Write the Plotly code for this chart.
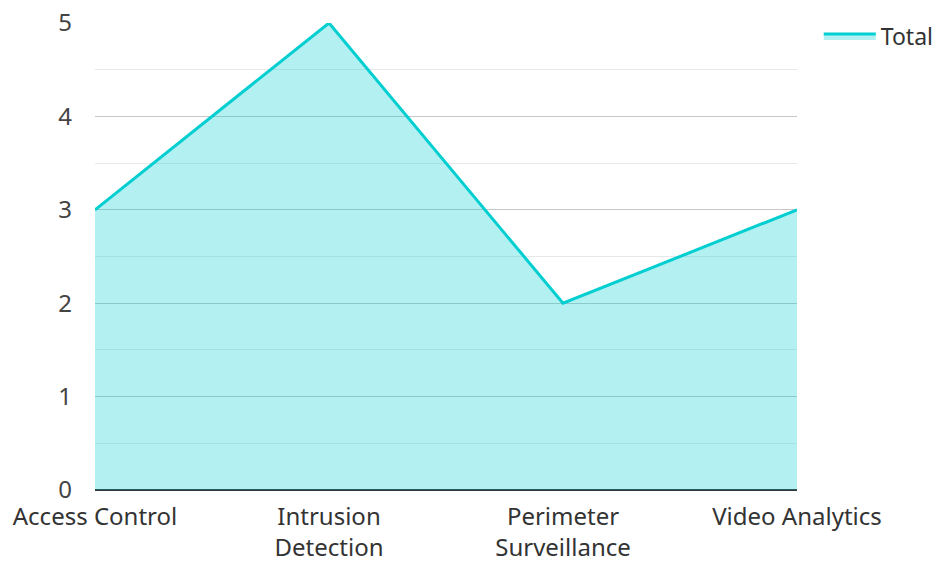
import plotly.graph_objects as go

categories = ["Access Control", "Intrusion<br>Detection", "Perimeter<br>Surveillance", "Video Analytics"]
totals = [3, 5, 2, 3]
y_ticks = [0, 1, 2, 3, 4, 5]

fig = go.Figure()
fig.add_trace(go.Scatter(
    x=list(range(len(categories))), y=totals, name="Total", mode="lines",
    line=dict(color="#00CED1", width=3),
    fill="tozeroy", fillcolor="rgba(0,206,209,0.3)",
    showlegend=True,
))
fig.update_layout(
    width=938, height=562,
    margin=dict(l=95, r=141, t=23, b=72, autoexpand=False),
    paper_bgcolor="white", plot_bgcolor="white",
    font=dict(family="Noto Sans", size=24, color="#333333"),
    showlegend=True,
    legend=dict(x=1.031, y=1.018, xanchor="left", yanchor="top", itemwidth=52,
                font=dict(size=23, color="#333333"), bgcolor="rgba(0,0,0,0)"),
    xaxis=dict(tickmode="array", tickvals=list(range(len(categories))), ticktext=categories,
               range=[0, 3], showgrid=False, zeroline=False, showline=False, ticks="",
               ticklabelstandoff=10, automargin=False,
               tickfont=dict(size=24, color="#333333")),
    yaxis=dict(range=[0, 5], tickvals=y_ticks, showgrid=True, gridcolor="#c8c8c8", gridwidth=1,
               zeroline=True, zerolinecolor="#333333", zerolinewidth=2, ticks="",
               ticklabelstandoff=22, automargin=False,
               tickfont=dict(size=24, color="#444444"),
               minor=dict(dtick=0.5, showgrid=True, gridcolor="#e8e8e8", gridwidth=1)),
)
fig.write_html("out.html")
